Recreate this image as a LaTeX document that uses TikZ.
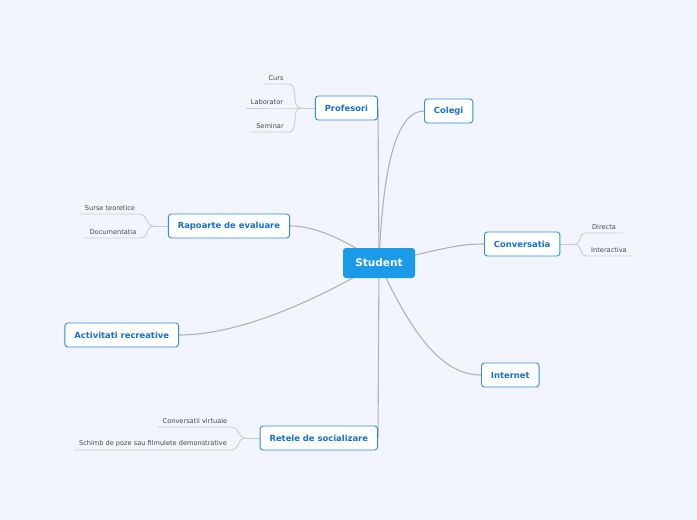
\documentclass[tikz,border=0pt]{standalone}
\usepackage{fontspec}
\setmainfont{DejaVu Sans}
\usetikzlibrary{positioning, backgrounds}
\definecolor{cbg}{HTML}{F2F5FD}
\definecolor{cblue}{HTML}{1B9AE7}
\definecolor{cframe}{HTML}{2C8CE8}
\definecolor{ctext}{HTML}{1670CF}
\definecolor{cedge}{HTML}{B2B2B6}
\definecolor{cleaf}{HTML}{CACBD0}
\definecolor{cgrey}{HTML}{454545}
\tikzset{
  every picture/.style={x=1pt, y=-1pt},
  root/.style={fill=cblue, text=white, rounded corners=3pt, minimum width=72pt, minimum height=30pt, font=\bfseries\fontsize{10.5}{12}\selectfont},
  branch/.style={draw=cframe, fill=white, text=ctext, rounded corners=3pt, line width=0.9pt, minimum height=24pt, inner xsep=9.5pt, font=\bfseries\fontsize{8.4}{9}\selectfont},
  leaf/.style={anchor=south, text=cgrey, inner xsep=5pt, inner ysep=3pt, font=\fontsize{6.6}{7}\selectfont},
  edge/.style={draw=cedge, line width=1.1pt},
  leafline/.style={draw=cleaf, line width=0.9pt},
}
\begin{document}
\begin{tikzpicture}
  \useasboundingbox (0,0) rectangle (697,520);

  \node[root] (student) at (379,263) {Student};

  % branches
  \node[branch, anchor=east] (profesori)  at (378,108) {Profesori};
  \node[branch, anchor=west] (colegi)     at (424,111) {Colegi};
  \node[branch, anchor=west] (conv)       at (484,244) {Conversatia};
  \node[branch, anchor=west] (internet)   at (481,375) {Internet};
  \node[branch, anchor=east] (retele)     at (378,438) {Retele de socializare};
  \node[branch, anchor=east] (activitati) at (179,335) {Activitati recreative};
  \node[branch, anchor=east] (rapoarte)   at (290,226) {Rapoarte de evaluare};

  % junctions
  \coordinate (pj) at ([xshift=-14pt]profesori.west);
  \coordinate (rj) at ([xshift=-15pt]rapoarte.west);
  \coordinate (cj) at ([xshift=15pt]conv.east);
  \coordinate (sj) at ([xshift=-15pt]retele.west);

  % leaves
  \node[leaf] (curs)  at (276,84)  {Curs};
  \node[leaf] (lab)   at (267,108) {Laborator};
  \node[leaf] (sem)   at (270,132) {Seminar};
  \node[leaf] (surse) at (110,214) {Surse teoretice};
  \node[leaf] (doc)   at (113,238) {Documentatia};
  \node[leaf, inner xsep=7pt] (dir) at (604,233) {Directa};
  \node[leaf] (inter) at (609,256) {Interactiva};
  \node[leaf] (virt)  at (195,427) {Conversatii virtuale};
  \node[leaf] (poze)  at (153,450) {Schimb de poze sau filmulete demonstrative};

  \begin{scope}[on background layer]
    \fill[cbg] (0,0) rectangle (697,520);
    \draw[edge] (student.center) -- (profesori.east);
    \draw[edge] (student.center) .. controls (383,160) and (398,111) .. (colegi.west);
    \draw[edge] (student.center) .. controls (440,250) and (455,244) .. (conv.west);
    \draw[edge] (student.center) .. controls (410,330) and (440,375) .. (internet.west);
    \draw[edge] (student.center) -- (retele.east);
    \draw[edge] (student.center) .. controls (300,310) and (230,335) .. (activitati.east);
    \draw[edge] (student.center) .. controls (340,236) and (312,226) .. (rapoarte.east);

    \foreach \l in {curs, lab, sem}
      \draw[leafline] (\l.south west) -- (\l.south east) to[out=0, in=180] (pj);
    \draw[leafline] (pj) -- (profesori.west);
    \foreach \l in {surse, doc}
      \draw[leafline] (\l.south west) -- (\l.south east) to[out=0, in=180] (rj);
    \draw[leafline] (rj) -- (rapoarte.west);
    \foreach \l in {virt, poze}
      \draw[leafline] (\l.south west) -- (\l.south east) to[out=0, in=180] (sj);
    \draw[leafline] (sj) -- (retele.west);
    \foreach \l in {dir, inter}
      \draw[leafline] (\l.south east) -- (\l.south west) to[out=180, in=0] (cj);
    \draw[leafline] (cj) -- (conv.east);
  \end{scope}
\end{tikzpicture}
\end{document}
